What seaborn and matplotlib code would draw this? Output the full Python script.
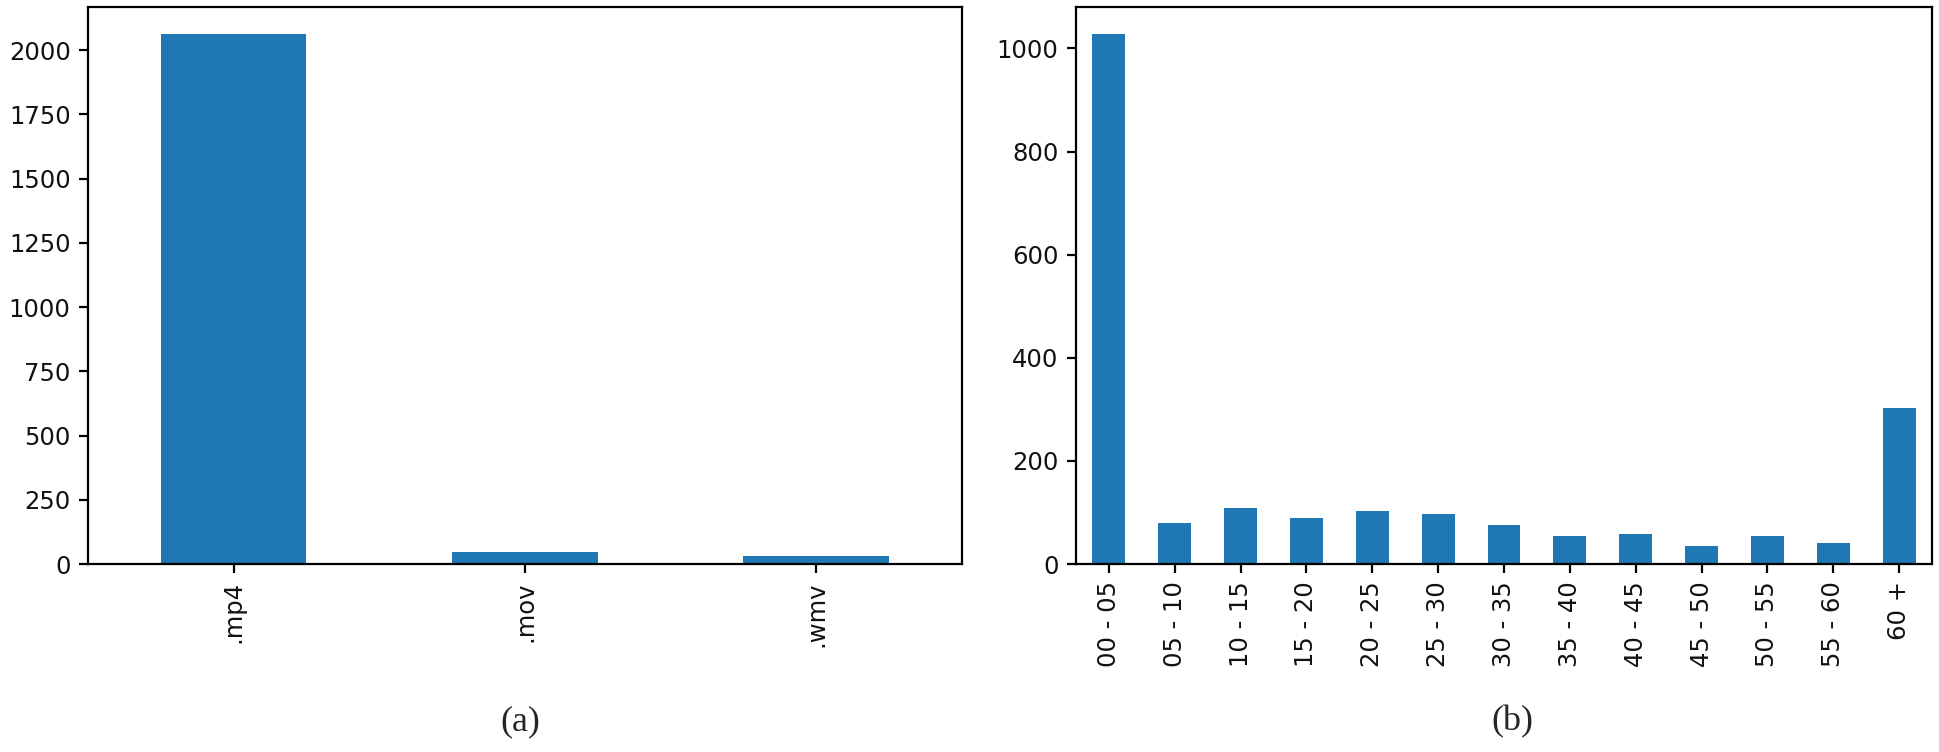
import matplotlib
matplotlib.use("Agg")
import matplotlib.pyplot as plt
import seaborn as sns
import pandas as pd

# ---- data ----
formats = [".mp4", ".mov", ".wmv"]
format_counts = [2065, 45, 31]

durations = ["00 - 05", "05 - 10", "10 - 15", "15 - 20", "20 - 25", "25 - 30",
             "30 - 35", "35 - 40", "40 - 45", "45 - 50", "50 - 55", "55 - 60", "60 +"]
duration_counts = [1029, 79, 109, 90, 103, 97, 75, 54, 58, 34, 54, 41, 303]

panel_labels = ["(a)", "(b)"]

sns.set_theme(style="white")
plt.rcParams["font.family"] = ["DejaVu Sans"]

BAR = "#1f77b4"
FS = 17.5

fig = plt.figure(figsize=(19.4, 7.52), dpi=100)
ax1 = fig.add_axes([88/1940, (752-564)/752, (962-88)/1940, (564-7)/752])
ax2 = fig.add_axes([1076/1940, (752-564)/752, (1932-1076)/1940, (564-7)/752])

df1 = pd.DataFrame({"fmt": formats, "count": format_counts})
df2 = pd.DataFrame({"dur": durations, "count": duration_counts})

sns.barplot(data=df1, x="fmt", y="count", ax=ax1, color=BAR, saturation=1,
            width=0.5, linewidth=0)
sns.barplot(data=df2, x="dur", y="count", ax=ax2, color=BAR, saturation=1,
            width=0.5, linewidth=0)

for ax, vals, n in [(ax1, format_counts, len(formats)), (ax2, duration_counts, len(durations))]:
    ax.set_ylim(0, max(vals) * 1.05)
    ax.set_xlim(-0.5, n - 0.5)
    ax.set_xlabel("")
    ax.set_ylabel("")
    for s in ax.spines.values():
        s.set_visible(True)
        s.set_color("black")
        s.set_linewidth(1.6)
    ax.tick_params(axis="both", which="major", labelsize=FS, length=6.5,
                   width=1.6, color="black", pad=6, labelcolor="#111111",
                   bottom=True, left=True)
    ax.tick_params(axis="x", labelrotation=90)
    ax.grid(False)

fig.text(520/1940, 1 - 722/752, panel_labels[0], ha="center", va="center",
         fontsize=26, family=["Liberation Serif", "DejaVu Serif"])
fig.text(1512/1940, 1 - 722/752, panel_labels[1], ha="center", va="center",
         fontsize=26, family=["Liberation Serif", "DejaVu Serif"])

fig.savefig("out.png", dpi=100, facecolor="white")
